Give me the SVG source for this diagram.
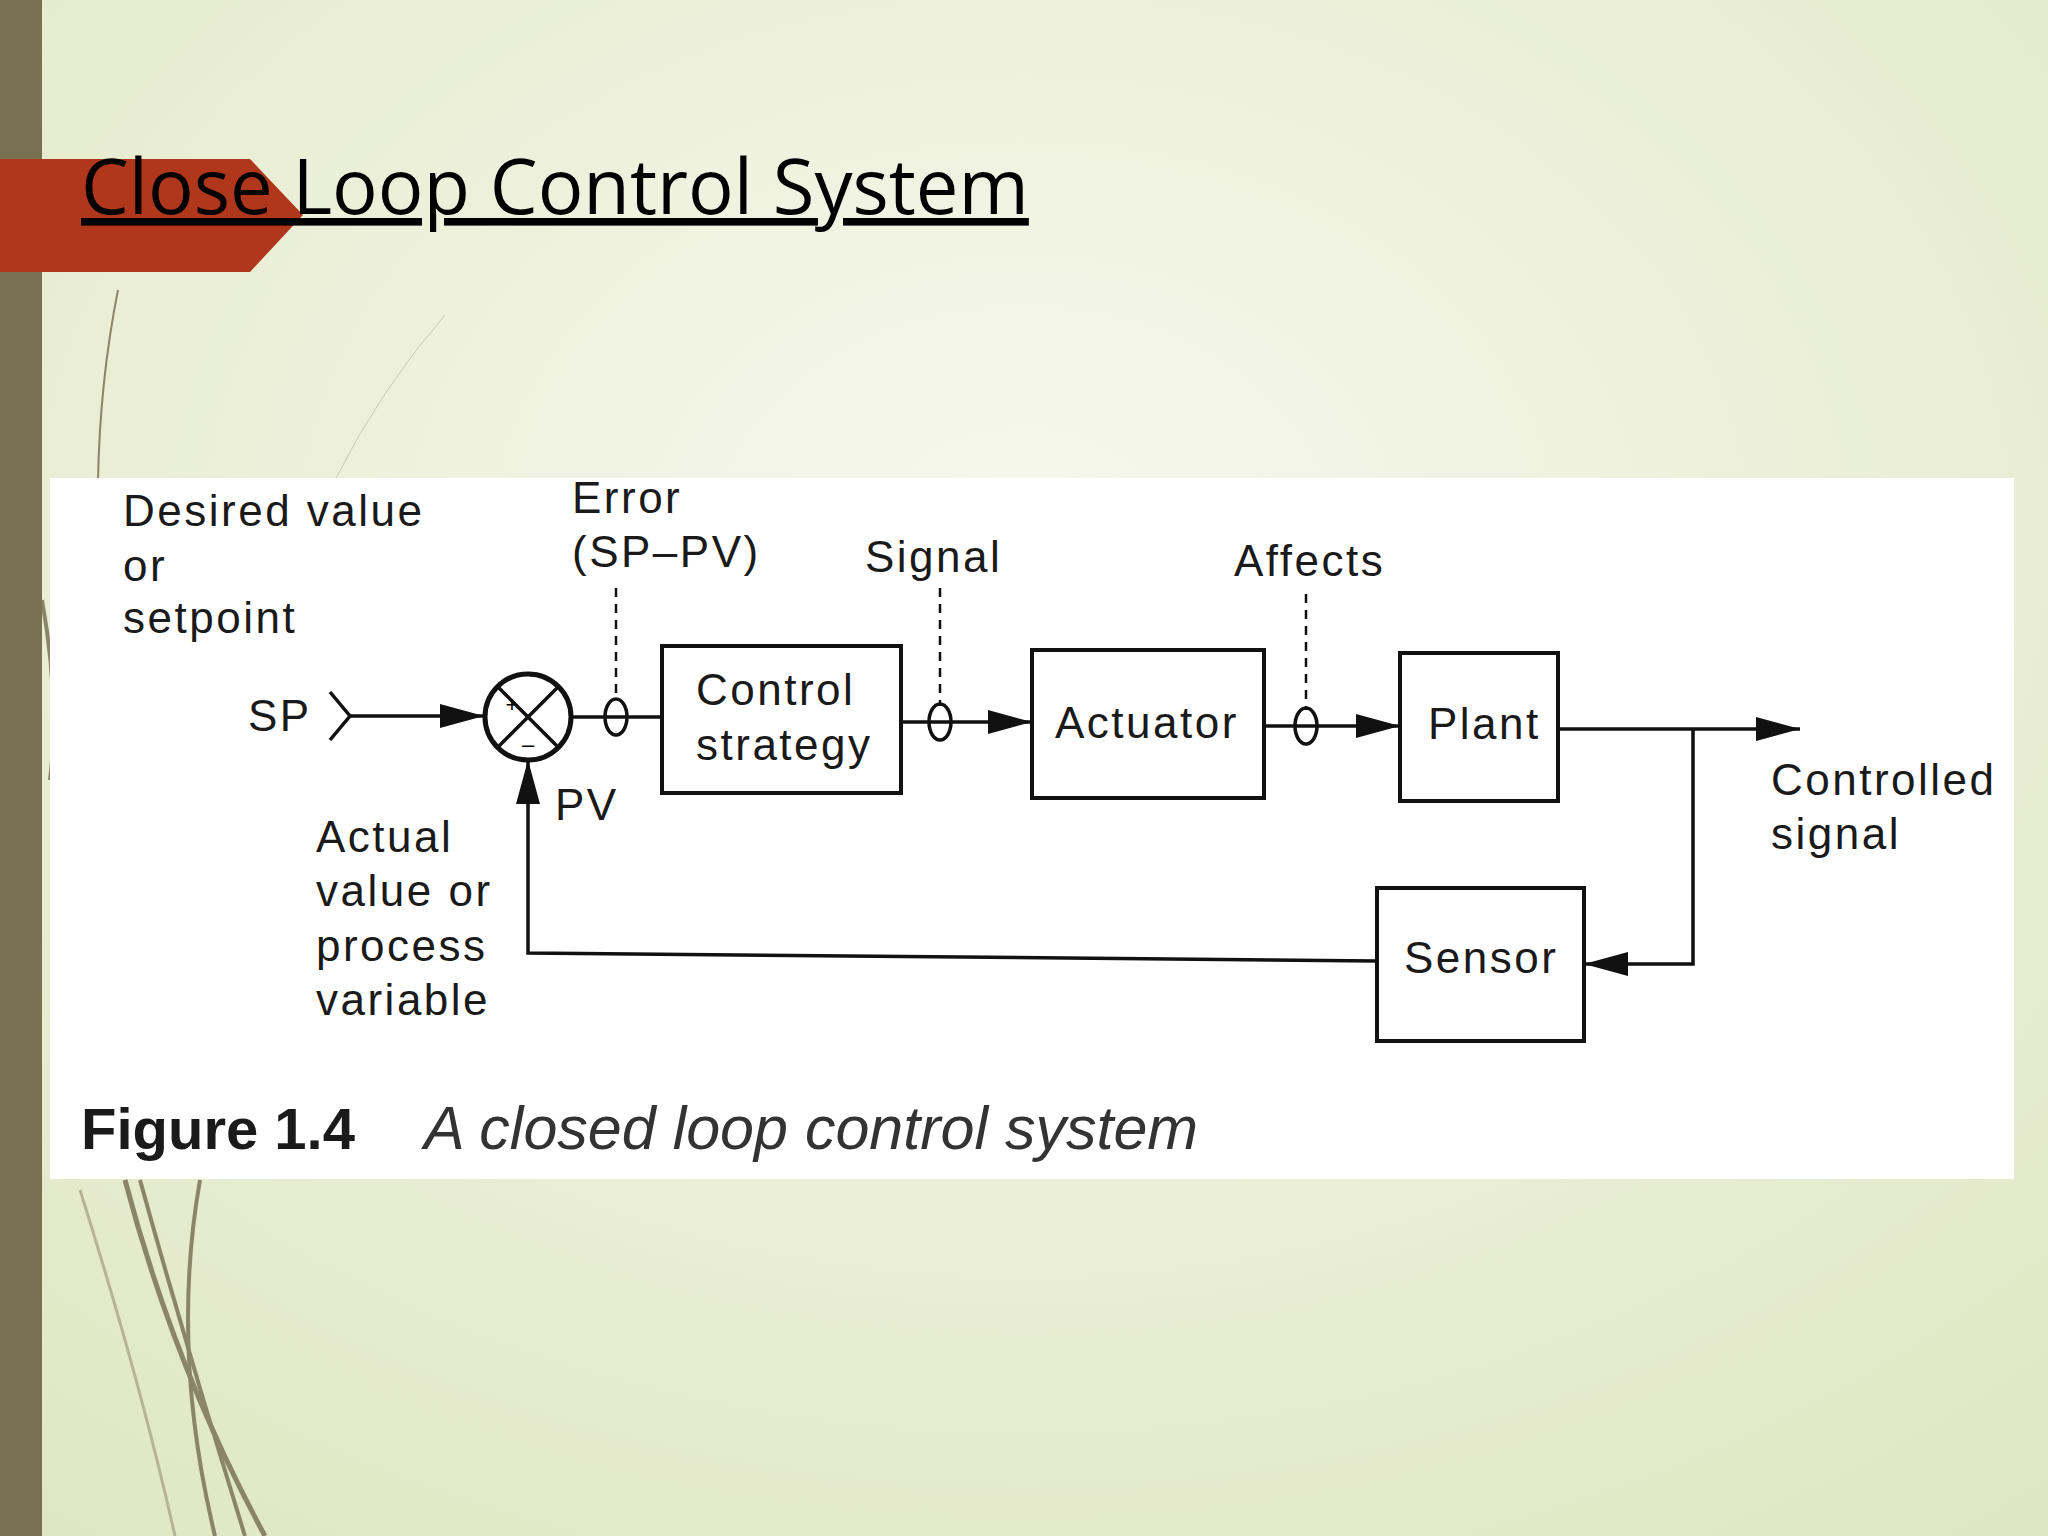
<svg xmlns="http://www.w3.org/2000/svg" width="2048" height="1536" viewBox="0 0 2048 1536">
<defs>
<radialGradient id="bg" cx="0.5" cy="0.35" r="0.8">
<stop offset="0" stop-color="#f7f8ee"/>
<stop offset="1" stop-color="#dfe7c2"/>
</radialGradient>
<marker id="ahb" viewBox="0 0 44 24" refX="44" refY="12" markerWidth="44" markerHeight="24" markerUnits="userSpaceOnUse" orient="auto">
<path d="M0,0 L44,12 L0,24 Z" fill="#111"/>
</marker>
</defs>
<style>
.t{font-family:"Liberation Sans",Arial,sans-serif;font-size:44px;letter-spacing:2.5px;fill:#1a1a1a}
.box{fill:#fff;stroke:#111;stroke-width:4}
.ln{fill:none;stroke:#111;stroke-width:3.5}
.dash{fill:none;stroke:#111;stroke-width:2.5;stroke-dasharray:9 7}
.deco{fill:none;stroke:#8a8468}
</style>
<rect width="2048" height="1536" fill="url(#bg)"/>
<g id="decor">
<path class="deco" d="M118,290 Q100,380 98,480" style="stroke-width:2"/>
<path class="deco" d="M445,315 Q380,390 335,480" style="stroke-width:1;stroke:#c9c9b0"/>
<path class="deco" d="M125,1180 Q175,1370 265,1536" style="stroke-width:5"/>
<path class="deco" d="M140,1180 Q190,1360 245,1536" style="stroke-width:4"/>
<path class="deco" d="M200,1180 Q170,1350 215,1536" style="stroke-width:4"/>
<path class="deco" d="M80,1190 Q140,1380 175,1536" style="stroke-width:3;stroke:#b5b496"/>
<path class="deco" d="M42,600 Q60,700 50,780" style="stroke-width:4"/>
</g>
<rect x="0" y="0" width="42" height="1536" fill="#777152"/>
<polygon points="0,159 250,159 303,215 250,272 0,272" fill="#b0361c"/>
<text x="81" y="214" font-family="'Open Sans','Noto Sans',sans-serif" font-size="76" fill="#000" text-decoration="underline">Close Loop Control System</text>
<rect x="50" y="478" width="1964" height="701" fill="#fff"/>
<g id="labels">
<text class="t" x="123" y="526">Desired value</text>
<text class="t" x="123" y="581">or</text>
<text class="t" x="123" y="633">setpoint</text>
<text class="t" x="248" y="731">SP</text>
<text class="t" x="572" y="513">Error</text>
<text class="t" x="572" y="567">(SP–PV)</text>
<text class="t" x="865" y="572">Signal</text>
<text class="t" x="1234" y="576">Affects</text>
<text class="t" x="555" y="820">PV</text>
<text class="t" x="316" y="852">Actual</text>
<text class="t" x="316" y="906">value or</text>
<text class="t" x="316" y="961">process</text>
<text class="t" x="316" y="1015">variable</text>
<text class="t" x="1771" y="795">Controlled</text>
<text class="t" x="1771" y="849">signal</text>
</g>
<g id="connectors">
<path class="ln" d="M330,692 L350,716 L330,740"/>
<line class="ln" x1="350" y1="716" x2="484" y2="716" marker-end="url(#ahb)"/>
<line class="ln" x1="571" y1="717" x2="662" y2="717"/>
<line class="ln" x1="901" y1="722" x2="1032" y2="722" marker-end="url(#ahb)"/>
<line class="ln" x1="1264" y1="726" x2="1400" y2="726" marker-end="url(#ahb)"/>
<line class="ln" x1="1558" y1="729" x2="1800" y2="729" marker-end="url(#ahb)"/>
<polyline class="ln" points="1693,729 1693,964 1584,964" marker-end="url(#ahb)"/>
<polyline class="ln" points="1377,961 528,953 528,760" marker-end="url(#ahb)"/>
<line class="dash" x1="616" y1="588" x2="616" y2="700"/>
<line class="dash" x1="940" y1="588" x2="940" y2="706"/>
<line class="dash" x1="1306" y1="594" x2="1306" y2="710"/>
<ellipse class="ln" cx="616" cy="717" rx="11" ry="18"/>
<ellipse class="ln" cx="940" cy="722" rx="11" ry="18"/>
<ellipse class="ln" cx="1306" cy="726" rx="11" ry="18"/>
</g>
<g id="sum">
<circle cx="528" cy="717" r="43" fill="#fff" stroke="#111" stroke-width="5"/>
<line class="ln" x1="498" y1="687" x2="558" y2="747"/>
<line class="ln" x1="558" y1="687" x2="498" y2="747"/>
<text x="512" y="712" font-family="Liberation Sans,sans-serif" font-size="22" text-anchor="middle">+</text>
<text x="528" y="752" font-family="Liberation Sans,sans-serif" font-size="22" text-anchor="middle">–</text>
</g>
<g id="control">
<rect class="box" x="662" y="646" width="239" height="147"/>
<text class="t" x="696" y="705">Control</text>
<text class="t" x="696" y="760">strategy</text>
</g>
<g id="actuator">
<rect class="box" x="1032" y="650" width="232" height="148"/>
<text class="t" x="1055" y="738">Actuator</text>
</g>
<g id="plant">
<rect class="box" x="1400" y="653" width="158" height="148"/>
<text class="t" x="1428" y="739">Plant</text>
</g>
<g id="sensor">
<rect class="box" x="1377" y="888" width="207" height="153"/>
<text class="t" x="1404" y="973">Sensor</text>
</g>
<text x="81" y="1149" font-family="'Liberation Sans',Arial,sans-serif" font-size="58" font-weight="bold" fill="#1a1a1a">Figure 1.4</text>
<text x="424" y="1149" font-family="'Liberation Sans',Arial,sans-serif" font-size="61" font-style="italic" fill="#333">A closed loop control system</text>
</svg>
